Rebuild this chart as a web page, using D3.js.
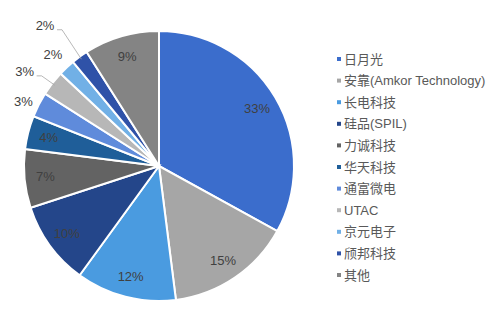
<!DOCTYPE html>
<html>
<head>
<meta charset="utf-8">
<script src="https://cdn.jsdelivr.net/npm/d3@7"></script>
<style>
  body { margin: 0; background: #fff; }
  text { font-family: "Liberation Sans", Arial, "Noto Sans CJK SC", sans-serif; }
</style>
</head>
<body>
<svg width="500" height="318"></svg>
<script>
// companies, clockwise from 12 o'clock
const companies = ['日月光', '安靠(Amkor Technology)', '长电科技', '硅品(SPIL)', '力诚科技',
  '华天科技', '通富微电', 'UTAC', '京元电子', '颀邦科技', '其他'];
// market share in percent
const shares = [33, 15, 12, 10, 7, 4, 3, 3, 2, 2, 9];
const colors = ['#3B6DCC', '#A6A6A6', '#4A9BE0', '#24468A', '#636363', '#1F5E99',
  '#5F8BDB', '#B7B7B7', '#71B0E6', '#2F52A8', '#848484'];

const data = companies.map((name, i) => ({ name: name, value: shares[i] }));

const svg = d3.select('svg');
const cx = 159, cy = 166, radius = 135;

const pie = d3.pie().sort(null).value(d => d.value);
const arcs = pie(data);
const color = d3.scaleOrdinal().domain(companies).range(colors);

const arc = d3.arc().innerRadius(0).outerRadius(radius);
const labelArc = d3.arc().innerRadius(114).outerRadius(114);

const g = svg.append('g').attr('transform', `translate(${cx},${cy})`);

// slices
g.selectAll('path')
  .data(arcs)
  .enter()
  .append('path')
  .attr('d', arc)
  .attr('fill', d => color(d.data.name))
  .attr('stroke', '#fff')
  .attr('stroke-width', 2);

// small slices get their label outside, some with a leader line
const outside = { '通富微电': { r: 151, dx: -1, dy: 4, line: false },
  'UTAC': { r: 165, dx: -4, dy: 7, line: true },
  '京元电子': { r: 155, dx: 0, dy: 1, line: false },
  '颀邦科技': { r: 182, dx: -7, dy: 7, line: true } };

function pos(a, r) {
  const m = (a.startAngle + a.endAngle) / 2;
  return [Math.sin(m) * r, -Math.cos(m) * r];
}

arcs.forEach(a => {
  const o = outside[a.data.name];
  let p;
  if (o) {
    p = pos(a, o.r);
    p = [p[0] + o.dx, p[1] + o.dy];
    if (o.line) {
      const edge = pos(a, radius - 3);
      const start = [p[0] + 12, p[1] + 4];
      g.append('polyline')
        .attr('points', [start, [start[0] + 5, start[1]], edge].map(q => q.join(',')).join(' '))
        .attr('fill', 'none')
        .attr('stroke', '#a6a6a6')
        .attr('stroke-width', 0.8);
    }
  } else {
    p = labelArc.centroid(a);
  }
  g.append('text')
    .attr('x', p[0])
    .attr('y', p[1])
    .attr('dy', '0.35em')
    .attr('text-anchor', 'middle')
    .attr('font-size', 13)
    .attr('fill', '#404040')
    .text(a.data.value + '%');
});

// legend
const legend = svg.selectAll('.legend')
  .data(companies)
  .enter()
  .append('g')
  .attr('class', 'legend')
  .attr('transform', (d, i) => `translate(337, ${59 + i * 21.6})`);

legend.append('rect')
  .attr('x', 0)
  .attr('y', -2)
  .attr('width', 4)
  .attr('height', 4)
  .attr('fill', d => color(d));

legend.append('text')
  .attr('x', 7)
  .attr('dy', '0.35em')
  .attr('font-size', 13)
  .attr('fill', '#595959')
  .text(d => d);
</script>
</body>
</html>
